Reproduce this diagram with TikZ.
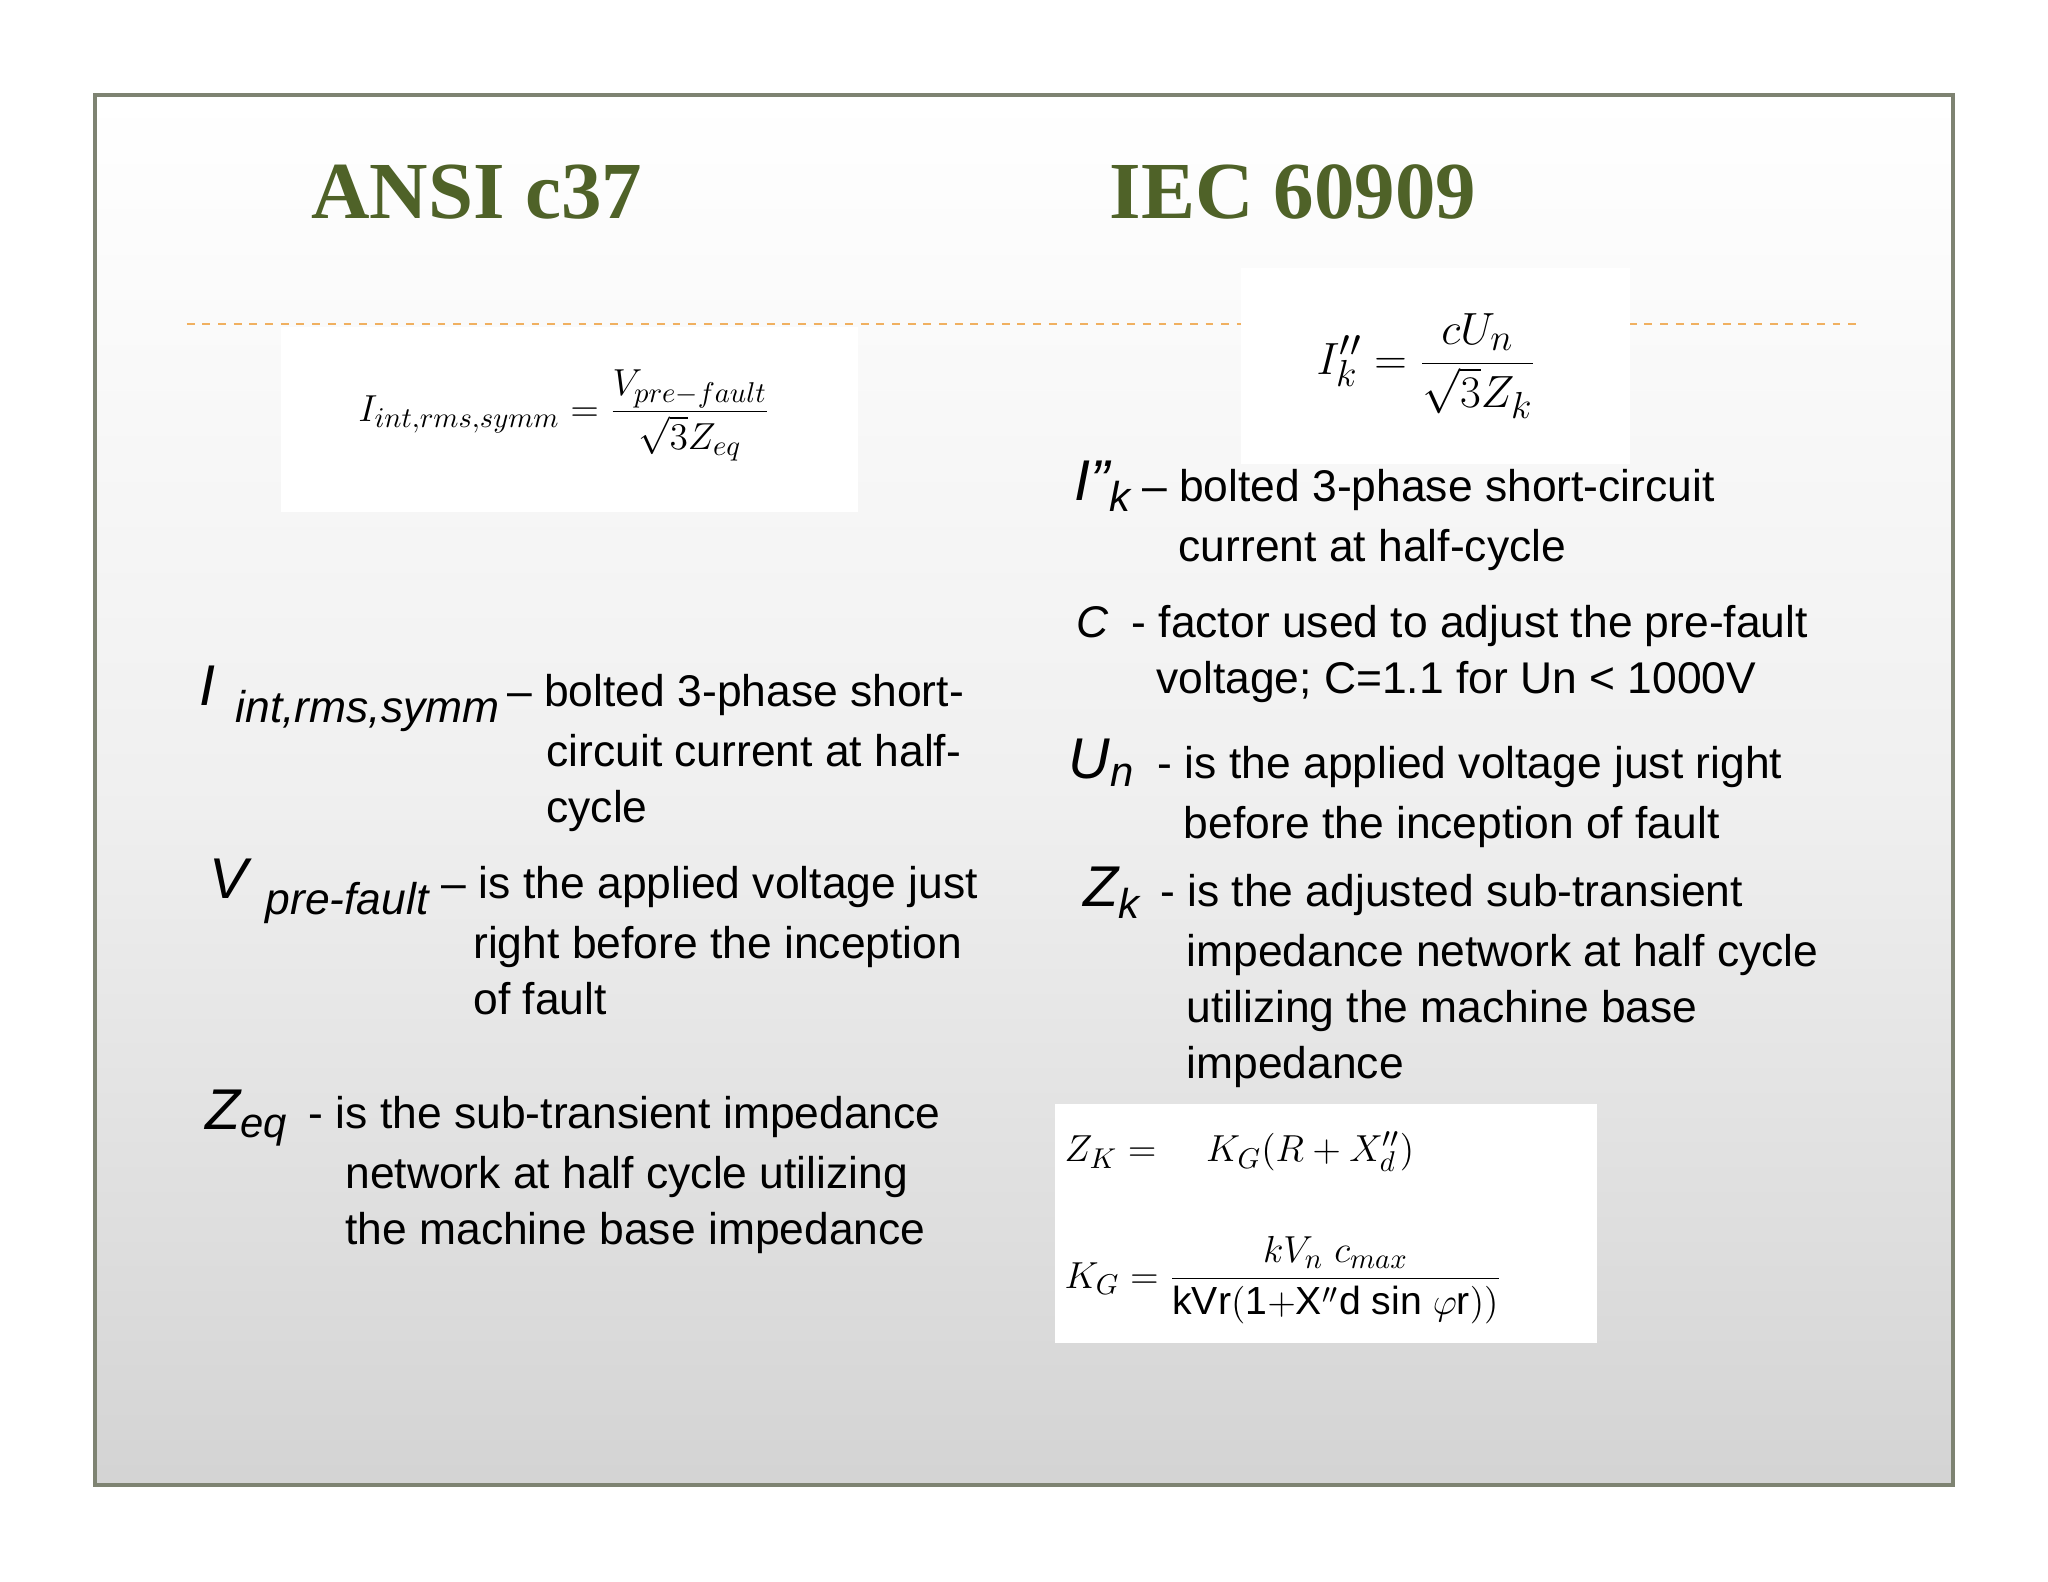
\documentclass[tikz,border=0pt]{standalone}
\usepackage{fontspec}
\setmainfont{Liberation Sans}
\newfontfamily\serifb{Liberation Serif}
\usetikzlibrary{shadings}
\definecolor{olive}{HTML}{4F6228}
\definecolor{dashor}{HTML}{F0B060}
\begin{document}
\begin{tikzpicture}[x=0.5pt,y=-0.5pt,
  txt/.style={anchor=base west,inner sep=0pt,font=\fontsize{17}{20}\selectfont},
  sym/.style={anchor=base west,inner sep=0pt,font=\fontsize{22}{25}\selectfont\itshape},
  ttl/.style={inner sep=0pt,font=\fontsize{31}{34}\selectfont\serifb\bfseries,text=olive},
  fbox/.style={fill=white,draw=none}]
\useasboundingbox (0,0) rectangle (1568,1211);
\fill[white] (0,0) rectangle (1568,1211);
\shade[top color=white,bottom color=black!17,middle color=black!6] (73,73) rectangle (1495,1137);
\draw[black!50!olive!60,line width=1.5pt] (73,73) rectangle (1495,1137);
\node[ttl] (t1) at (365,147) {ANSI c37};
\node[ttl] (t2) at (990,147) {IEC 60909};
\draw[dashor,dashed,line width=0.6pt] (143,248) -- (1425,248);
\fill[fbox] (215,250) rectangle (657,392);
\fill[fbox] (950,205) rectangle (1248,355);
\fill[fbox] (808,845) rectangle (1223,1028);
\node (f1) at (432,318) {\fontsize{15.5}{18}\selectfont $\displaystyle I_{int,rms,symm}=\frac{V_{pre-fault}}{\sqrt{3}Z_{eq}}$};
\node (f2) at (1092,280) {\fontsize{19}{22}\selectfont $\displaystyle I''_{k}=\frac{cU_n}{\sqrt{3}Z_k}$};
\node[anchor=west] (f3) at (808,882) {\fontsize{15}{17}\selectfont $Z_K=\quad K_G(R+X_d'')$};
\node[anchor=west] (f4) at (808,980) {\fontsize{15}{17}\selectfont $K_G=\displaystyle\frac{kV_n\ c_{max}}{\mathrm{kVr(1{+}X''d\ sin\ \varphi r))}}$};
% left column
\node[sym] (a1) at (152,540) {I};
\node[txt,font=\fontsize{17}{20}\selectfont\itshape] (a1s) at (180,553) {int,rms,symm};
\node[txt] (a1t) at (388,541) {– bolted 3-phase short-};
\node[txt] at (418,587) {circuit current at half-};
\node[txt] at (418,630) {cycle};
\node[sym] (a2) at (160,688) {V};
\node[txt,font=\fontsize{17}{20}\selectfont\itshape] at (203,700) {pre-fault};
\node[txt] at (338,688) {– is the applied voltage just};
\node[txt] at (362,734) {right before the inception};
\node[txt] at (362,777) {of fault};
\node[sym] (a3) at (157,865) {Z\textsubscript{\fontsize{16}{18}\selectfont eq}};
\node[txt] at (236,864) {- is the sub-transient impedance};
\node[txt] at (264,910) {network at half cycle utilizing};
\node[txt] at (264,953) {the machine base impedance};
% right column
\node[sym] (b1) at (822,383) {I”\textsubscript{\fontsize{16}{18}\selectfont k}};
\node[txt] at (874,384) {– bolted 3-phase short-circuit};
\node[txt] at (902,430) {current at half-cycle};
\node[txt,font=\fontsize{17}{20}\selectfont\itshape] (b2) at (824,488) {C};
\node[txt] at (866,488) {- factor used to adjust the pre-fault};
\node[txt] at (885,531) {voltage; C=1.1 for Un < 1000V};
\node[sym] (b3) at (818,596) {U\textsubscript{\fontsize{16}{18}\selectfont n}};
\node[txt] at (886,596) {- is the applied voltage just right};
\node[txt] at (906,642) {before the inception of fault};
\node[sym] (b4) at (829,694) {Z\textsubscript{\fontsize{16}{18}\selectfont k}};
\node[txt] at (888,694) {- is the adjusted sub-transient};
\node[txt] at (908,740) {impedance network at half cycle};
\node[txt] at (908,783) {utilizing the machine base};
\node[txt] at (908,826) {impedance};
\end{tikzpicture}
\end{document}
